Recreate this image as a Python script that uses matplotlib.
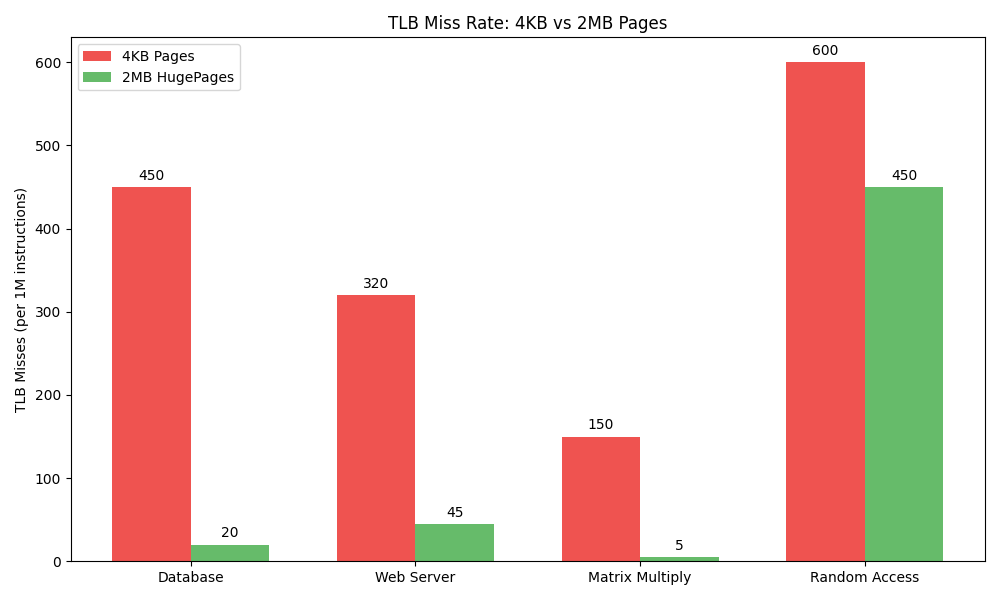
import matplotlib
matplotlib.use('Agg')
import matplotlib.pyplot as plt
import numpy as np

workloads = ['Database', 'Web Server', 'Matrix Multiply', 'Random Access']
misses_4kb = [450, 320, 150, 600]
misses_2mb = [20, 45, 5, 450]


def label_bars(ax, bars):
    for bar in bars:
        h = bar.get_height()
        ax.annotate('{}'.format(h),
                    xy=(bar.get_x() + bar.get_width() / 2, h),
                    xytext=(0, 3), textcoords='offset points',
                    ha='center', va='bottom')


if __name__ == '__main__':
    x = np.arange(len(workloads))
    width = 0.35

    fig, ax = plt.subplots(figsize=(10, 6))
    b1 = ax.bar(x - width / 2, misses_4kb, width, label='4KB Pages', color='#ef5350')
    b2 = ax.bar(x + width / 2, misses_2mb, width, label='2MB HugePages', color='#66bb6a')

    ax.set_ylabel('TLB Misses (per 1M instructions)')
    ax.set_title('TLB Miss Rate: 4KB vs 2MB Pages')
    ax.set_xticks(x)
    ax.set_xticklabels(workloads)
    ax.legend(loc='upper left')

    label_bars(ax, b1)
    label_bars(ax, b2)

    fig.tight_layout()
    fig.savefig('out.png', dpi=100)
